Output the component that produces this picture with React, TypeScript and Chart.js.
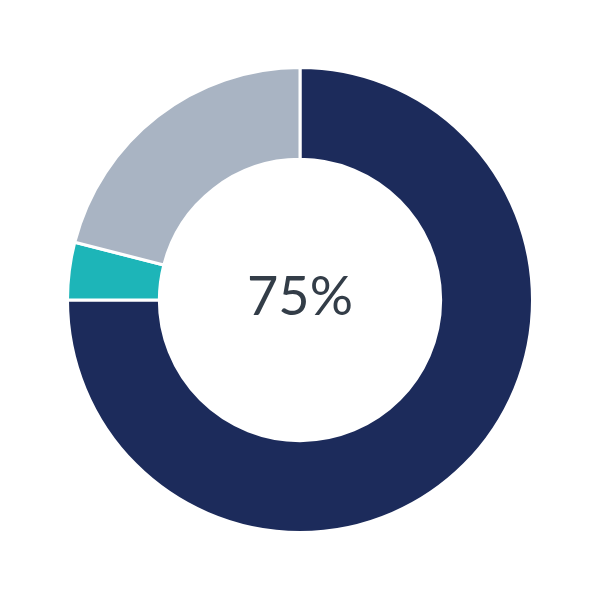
import React, { useEffect, useRef } from "react";
import { Chart, registerables } from "chart.js";

Chart.register(...registerables);

const labels = ["A", "B", "C"];
const values = [75, 4, 21];
const colors = ["#1c2b5b", "#1db5b8", "#a9b4c3"];
const centerText = "75%";

export default function App() {
  const ref = useRef<HTMLCanvasElement | null>(null);
  useEffect(() => {
    document.body.style.margin = "0";
    const centerPlugin = {
      id: "centerText",
      afterDraw(chart: any) {
        const meta = chart.getDatasetMeta(0);
        const arc = meta.data[0];
        if (!arc) return;
        const { x, y } = arc;
        const ctx = chart.ctx;
        ctx.save();
        ctx.font = "54px Lato";
        ctx.fillStyle = "#333d48";
        ctx.textAlign = "center";
        ctx.textBaseline = "middle";
        ctx.fillText(centerText, x, y - 2);
        ctx.restore();
      },
    };
    const chart = new Chart(ref.current!, {
      type: "doughnut",
      data: {
        labels,
        datasets: [
          {
            data: values,
            backgroundColor: colors,
            borderColor: "#ffffff",
            borderWidth: 3,
          },
        ],
      },
      options: {
        animation: false,
        responsive: false,
        cutout: "60.5%",
        layout: { padding: 66 },
        plugins: { legend: { display: false }, tooltip: { enabled: false } },
      },
      plugins: [centerPlugin],
    });
    return () => chart.destroy();
  }, []);
  return (
    <div style={{ width: 600, height: 600, background: "#fff" }}>
      <canvas ref={ref} width={600} height={600} style={{ width: 600, height: 600 }} />
    </div>
  );
}
